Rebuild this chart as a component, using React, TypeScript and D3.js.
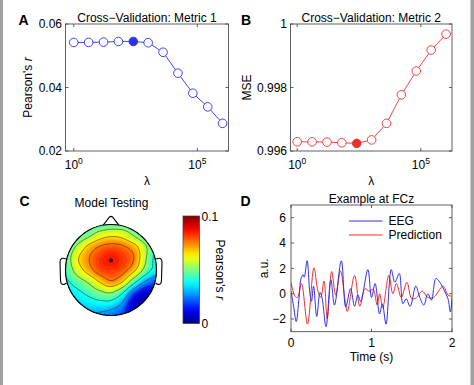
import React from "react";
import * as d3 from "d3";

const W = 474;
const H = 385;
const FONT = "'Liberation Sans', Arial, Helvetica, sans-serif";

// ---------- data ----------
const lambdas = [1, 4, 16, 64, 256, 1024, 4096, 16384, 65536, 262144, 1048576];
const metric1 = [0.0542, 0.0542, 0.0543, 0.0545, 0.0545, 0.0541, 0.0511, 0.0445, 0.0382, 0.0339, 0.0287];
const metric2 = [0.99629, 0.99629, 0.99628, 0.99626, 0.99624, 0.99635, 0.99687, 0.99777, 0.99852, 0.99918, 0.99968];
const bestIndex = 4;

const ticksA = [0.02, 0.04, 0.06];
const tickLabelsA = ["0.02", "0.04", "0.06"];
const ticksB = [0.996, 0.998, 1.0];
const tickLabelsB = ["0.996", "0.998", "1"];
const lambdaTicks = [1, 100000];
const lambdaTickExp = ["0", "5"];

const eegTimes = [0, 0.03, 0.065, 0.1, 0.125, 0.15, 0.165, 0.2, 0.235, 0.255, 0.28, 0.32, 0.36, 0.385, 0.435, 0.495, 0.54, 0.625, 0.68, 0.74, 0.79, 0.83, 0.865, 0.955, 1.0, 1.045, 1.1, 1.135, 1.18, 1.245, 1.29, 1.345, 1.39, 1.43, 1.48, 1.55, 1.6, 1.65, 1.7, 1.745, 1.8, 1.86, 1.9, 1.95, 1.98, 2.0];
const eegValues = [0.2, -0.9, -2.2, -0.3, 1.2, 1.5, 1.3, 2.6, 0.0, -0.6, 0.6, -1.8, 0.1, -0.3, -2.6, 1.1, -0.9, 2.6, -1.05, 0.4, -1.0, -0.1, -0.6, 1.9, -0.3, 0.8, -1.6, -0.8, -2.4, 1.9, 0.9, 1.6, -0.8, -0.4, -1.0, 0.6, -0.3, -0.9, 0.0, -0.5, 1.2, 0.8, 0.3, -0.4, -1.45, -0.3];
const predTimes = [0, 0.05, 0.08, 0.13, 0.205, 0.285, 0.335, 0.37, 0.41, 0.45, 0.505, 0.555, 0.615, 0.665, 0.7, 0.79, 0.855, 0.92, 0.97, 1.02, 1.07, 1.1, 1.14, 1.215, 1.265, 1.31, 1.37, 1.44, 1.5, 1.56, 1.63, 1.7, 1.77, 1.89, 1.95, 2.0];
const predValues = [0.9, -0.2, -0.3, 0.8, -2.4, 2.05, 0.2, -0.3, 1.0, -2.0, 1.75, -0.1, 1.8, -0.2, -1.4, 1.45, -1.0, 0.4, 0.2, 0.35, -0.9, 0.0, -1.1, 1.45, 0.0, 0.8, -0.3, 0.9, -0.4, -0.3, 0.2, -0.3, -0.3, 0.6, -0.1, -0.2];
const ticksDy = [-2, 0, 2, 4, 6];
const ticksDx = [0, 1, 2];
const legendLabels = ["EEG", "Prediction"];

// topography: Pearson's r (x0.1) on a coarse grid, x,y in [-1,1], y downward
const topoGrid = [
  [0.37, 0.39, 0.42, 0.45, 0.47, 0.47, 0.45, 0.42, 0.39],
  [0.39, 0.44, 0.51, 0.60, 0.64, 0.62, 0.53, 0.45, 0.41],
  [0.43, 0.55, 0.68, 0.76, 0.79, 0.77, 0.70, 0.55, 0.43],
  [0.46, 0.63, 0.74, 0.82, 0.86, 0.82, 0.75, 0.55, 0.37],
  [0.44, 0.58, 0.70, 0.80, 0.82, 0.79, 0.68, 0.49, 0.36],
  [0.39, 0.47, 0.55, 0.66, 0.74, 0.66, 0.46, 0.29, 0.21],
  [0.34, 0.38, 0.44, 0.50, 0.53, 0.42, 0.21, 0.09, 0.11],
  [0.31, 0.33, 0.35, 0.37, 0.36, 0.27, 0.07, 0.03, 0.09],
  [0.29, 0.29, 0.29, 0.27, 0.24, 0.19, 0.07, 0.05, 0.09],
];
const topoLevels = [0.17, 0.29, 0.41, 0.53, 0.65, 0.75];
const colorbarTicks = ["0", "0.1"];

// ---------- helpers ----------
const clamp01 = (v: number) => Math.max(0, Math.min(1, v));
function jet(t: number) {
  const r = clamp01(1.5 - Math.abs(4 * t - 3));
  const g = clamp01(1.5 - Math.abs(4 * t - 2));
  const b = clamp01(1.5 - Math.abs(4 * t - 1));
  return d3.rgb(r * 255, g * 255, b * 255).formatHex();
}
function cubic(p0: number, p1: number, p2: number, p3: number, t: number) {
  return p1 + 0.5 * t * (p2 - p0 + t * (2 * p0 - 5 * p1 + 4 * p2 - p3 + t * (3 * (p1 - p2) + p3 - p0)));
}
function gridVal(r: number, c: number) {
  const n = topoGrid.length - 1;
  const rr = Math.max(0, Math.min(n, r));
  const cc = Math.max(0, Math.min(n, c));
  return topoGrid[rr][cc];
}
function sampleTopo(u: number, v: number) {
  const n = topoGrid.length - 1;
  const step = 2 / n;
  const gx = Math.max(0, Math.min(n, (u + 1) / step));
  const gy = Math.max(0, Math.min(n, (v + 1) / step));
  const i = Math.min(n - 1, Math.floor(gx));
  const j = Math.min(n - 1, Math.floor(gy));
  const tx = gx - i;
  const ty = gy - j;
  const rows = [-1, 0, 1, 2].map((k) =>
    cubic(gridVal(j + k, i - 1), gridVal(j + k, i), gridVal(j + k, i + 1), gridVal(j + k, i + 2), tx)
  );
  return cubic(rows[0], rows[1], rows[2], rows[3], ty);
}

const BOX = "#3a3a3a";
const BLUE = "#2f2fec";
const RED = "#ec3030";

function AxesBox({ x0, x1, y0, y1, xt, yt }: { x0: number; x1: number; y0: number; y1: number; xt: number[]; yt: number[] }) {
  return (
    <g stroke={BOX} strokeWidth={0.8} fill="none">
      <rect x={x0} y={y0} width={x1 - x0} height={y1 - y0} />
      {xt.map((x, i) => (
        <g key={"x" + i}>
          <line x1={x} x2={x} y1={y1} y2={y1 - 3} />
          <line x1={x} x2={x} y1={y0} y2={y0 + 3} />
        </g>
      ))}
      {yt.map((y, i) => (
        <g key={"y" + i}>
          <line x1={x0} x2={x0 + 3} y1={y} y2={y} />
          <line x1={x1} x2={x1 - 3} y1={y} y2={y} />
        </g>
      ))}
    </g>
  );
}

function CVPanel({
  letter, letterX, title, xScale, yScale, values, color, yTicks, yLabels, yLabel, yLabelX,
}: any) {
  const [x0, x1] = xScale.range();
  const [y1, y0] = yScale.range();
  const line = d3.line<number>().x((_, i) => xScale(lambdas[i])).y((d) => yScale(d));
  const xt = lambdaTicks.map((t) => xScale(t));
  const yt = yTicks.map((t: number) => yScale(t));
  return (
    <g fontFamily={FONT} fontSize={12} fill="#000">
      <text x={letterX} y={25} fontSize={14} fontWeight="bold">{letter}</text>
      <text x={(x0 + x1) / 2} y={21.5} textAnchor="middle">{title}</text>
      <AxesBox x0={x0} x1={x1} y0={y0} y1={y1} xt={xt} yt={yt} />
      <path d={line(values) || ""} fill="none" stroke={color} strokeWidth={0.9} />
      {values.map((v: number, i: number) => (
        <circle key={i} cx={xScale(lambdas[i])} cy={yScale(v)} r={4.3}
          fill={i === bestIndex ? color : "#fff"} stroke={color} strokeWidth={0.9} />
      ))}
      {yTicks.map((t: number, i: number) => (
        <text key={i} x={x0 - 3.5} y={yScale(t)} dy="0.35em" textAnchor="end">{yLabels[i]}</text>
      ))}
      {lambdaTicks.map((t, i) => (
        <text key={i} x={xScale(t)} y={168.5} textAnchor="middle">
          10<tspan fontSize={8.5} dy={-5}>{lambdaTickExp[i]}</tspan>
        </text>
      ))}
      <text x={(x0 + x1) / 2} y={185} textAnchor="middle">λ</text>
      <text transform={`translate(${yLabelX},${(y0 + y1) / 2}) rotate(-90)`} textAnchor="middle">{yLabel}</text>
    </g>
  );
}

function TopoPanel() {
  const cx = 111, cy = 270, R = 45.5;
  const n = 120;
  const ext = 1.05;
  const values = new Array(n * n);
  for (let j = 0; j < n; j++) {
    for (let i = 0; i < n; i++) {
      const u = -ext + ((i + 0.5) * 2 * ext) / n;
      const v = -ext + ((j + 0.5) * 2 * ext) / n;
      values[j * n + i] = sampleTopo(u, v);
    }
  }
  const proj = d3.geoIdentity().scale((2 * ext * R) / n).translate([cx - ext * R, cy - ext * R]);
  const path = d3.geoPath(proj as any);
  const bandStep = 0.02;
  const bandThresholds = d3.range(-0.2, 1.0001, bandStep);
  const bands = d3.contours().size([n, n]).thresholds(bandThresholds)(values);
  const lines = d3.contours().size([n, n]).thresholds(topoLevels)(values);
  const dotY = cy - 0.21 * R;

  // colorbar
  const cbX = 183, cbW = 16.5, cbTop = 216, cbBot = 323.5;
  const stops = d3.range(0, 1.0001, 0.05);

  return (
    <g fontFamily={FONT} fontSize={12}>
      <text x={19.5} y={206} fontSize={14} fontWeight="bold">C</text>
      <text x={111.5} y={207} textAnchor="middle">Model Testing</text>
      <defs>
        <clipPath id="headClip">
          <circle cx={cx} cy={cy} r={R} />
        </clipPath>
        <linearGradient id="jetGrad" x1="0" y1="1" x2="0" y2="0">
          {stops.map((s, i) => (
            <stop key={i} offset={`${s * 100}%`} stopColor={jet(s)} />
          ))}
        </linearGradient>
      </defs>
      {/* nose and ears */}
      <path d={`M${cx - 7.8},${cy - 44.8} L${cx - 1.5},${cy - 53} Q${cx},${cy - 54.3} ${cx + 1.5},${cy - 53} L${cx + 7.8},${cy - 44.8}`}
        fill="#fff" stroke="#000" strokeWidth={1.1} />
      <path d={`M${cx - R + 0.5},${cy - 11} C${cx - R - 3},${cy - 12.5} ${cx - R - 5.5},${cy - 12} ${cx - R - 5.5},${cy - 8} L${cx - R - 5},${cy + 10} C${cx - R - 5},${cy + 15} ${cx - R - 2},${cy + 15.5} ${cx - R + 1},${cy + 13}`}
        fill="#fff" stroke="#000" strokeWidth={1.1} />
      <path d={`M${cx + R - 0.5},${cy - 11} C${cx + R + 3},${cy - 12.5} ${cx + R + 5.5},${cy - 12} ${cx + R + 5.5},${cy - 8} L${cx + R + 5},${cy + 10} C${cx + R + 5},${cy + 15} ${cx + R + 2},${cy + 15.5} ${cx + R - 1},${cy + 13}`}
        fill="#fff" stroke="#000" strokeWidth={1.1} />
      <g clipPath="url(#headClip)">
        {bands.map((b, i) => (
          <path key={i} d={path(b as any) || ""} fill={jet(clamp01(b.value + bandStep / 2))} stroke={jet(clamp01(b.value + bandStep / 2))} strokeWidth={0.3} />
        ))}
        {lines.map((b, i) => (
          <path key={"l" + i} d={path(b as any) || ""} fill="none" stroke="#1a1a1a" strokeOpacity={0.75} strokeWidth={0.7} />
        ))}
      </g>
      <circle cx={cx} cy={cy} r={R} fill="none" stroke="#000" strokeWidth={1.2} />
      <circle cx={cx} cy={dotY} r={1.9} fill="#000" />
      {/* colorbar */}
      <rect x={cbX} y={cbTop} width={cbW} height={cbBot - cbTop} fill="url(#jetGrad)" stroke={BOX} strokeWidth={0.7} />
      <line x1={cbX + cbW} x2={cbX + cbW - 2.5} y1={cbTop + 0.5} y2={cbTop + 0.5} stroke={BOX} strokeWidth={0.7} />
      <line x1={cbX + cbW} x2={cbX + cbW - 2.5} y1={cbBot - 0.5} y2={cbBot - 0.5} stroke={BOX} strokeWidth={0.7} />
      <text x={201.5} y={cbBot} dy="0.35em">{colorbarTicks[0]}</text>
      <text x={201.5} y={cbTop + 0.5} dy="0.35em">{colorbarTicks[1]}</text>
      <text transform={`translate(215.5,${(cbTop + cbBot) / 2}) rotate(90)`} textAnchor="middle">
        Pearson's <tspan fontStyle="italic">r</tspan>
      </text>
    </g>
  );
}

function TimePanel() {
  const x = d3.scaleLinear().domain([0, 2]).range([291, 452]);
  const y = d3.scaleLinear().domain([-3, 7]).range([331.7, 205]);
  const line = d3.line<[number, number]>().x((d) => x(d[0])).y((d) => y(d[1])).curve(d3.curveCatmullRom.alpha(0.5));
  const eeg = eegTimes.map((t, i) => [t, eegValues[i]] as [number, number]);
  const pred = predTimes.map((t, i) => [t, predValues[i]] as [number, number]);
  return (
    <g fontFamily={FONT} fontSize={12}>
      <text x={240.5} y={206} fontSize={14} fontWeight="bold">D</text>
      <text x={371.5} y={202.5} textAnchor="middle">Example at FCz</text>
      <defs>
        <clipPath id="dClip"><rect x={291} y={205} width={161} height={126.7} /></clipPath>
      </defs>
      <g clipPath="url(#dClip)">
        <path d={line(pred) || ""} fill="none" stroke={RED} strokeWidth={1} />
        <path d={line(eeg) || ""} fill="none" stroke={BLUE} strokeWidth={1} />
      </g>
      <AxesBox x0={291} x1={452} y0={205} y1={331.7} xt={ticksDx.map((t) => x(t))} yt={ticksDy.map((t) => y(t))} />
      {ticksDy.map((t, i) => (
        <text key={i} x={286} y={y(t)} dy="0.35em" textAnchor="end">{t < 0 ? "\u2212" + Math.abs(t) : String(t)}</text>
      ))}
      {ticksDx.map((t, i) => (
        <text key={i} x={x(t)} y={346.5} textAnchor="middle">{t}</text>
      ))}
      <text x={371.5} y={360.5} textAnchor="middle">Time (s)</text>
      <text transform={`translate(267.5,${(205 + 331.7) / 2}) rotate(-90)`} textAnchor="middle">a.u.</text>
      <line x1={349} x2={382.5} y1={221} y2={221} stroke={BLUE} strokeWidth={1} />
      <line x1={349} x2={382.5} y1={235} y2={235} stroke={RED} strokeWidth={1} />
      <text x={388.5} y={225.3}>{legendLabels[0]}</text>
      <text x={388.5} y={239.3}>{legendLabels[1]}</text>
    </g>
  );
}

export default function App() {
  const xA = d3.scaleLog().domain([Math.pow(10, -0.335), Math.pow(10, 6.26)]).range([65.5, 228.5]);
  const yA = d3.scaleLinear().domain([0.02, 0.06]).range([151, 24]);
  const xB = d3.scaleLog().domain([Math.pow(10, -0.27), Math.pow(10, 6.26)]).range([290.5, 452]);
  const yB = d3.scaleLinear().domain([0.996, 1.0]).range([151, 24]);
  return (
    <svg width={W} height={H} style={{ position: "absolute", left: 0, top: 0, background: "#fff" }}>
      <rect x={0} y={0} width={W} height={H} fill="#fff" />
      <rect x={0} y={0} width={3} height={H} fill="#a0a0a0" />
      <rect x={470.5} y={0} width={3.5} height={H} fill="#a0a0a0" />
      <CVPanel letter="A" letterX={18.5} title={"Cross\u2212Validation: Metric 1"} xScale={xA} yScale={yA}
        values={metric1} color={BLUE} yTicks={ticksA} yLabels={tickLabelsA}
        yLabel={<>Pearson's <tspan fontStyle="italic">r</tspan></>} yLabelX={31.5} />
      <CVPanel letter="B" letterX={241} title={"Cross\u2212Validation: Metric 2"} xScale={xB} yScale={yB}
        values={metric2} color={RED} yTicks={ticksB} yLabels={tickLabelsB}
        yLabel="MSE" yLabelX={250.5} />
      <TopoPanel />
      <TimePanel />
    </svg>
  );
}
